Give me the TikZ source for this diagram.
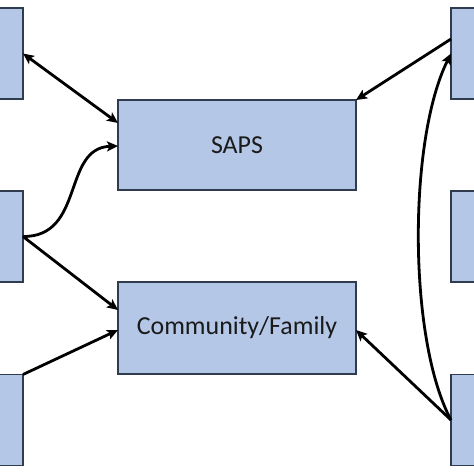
\documentclass[tikz,border=0pt]{standalone}
\usepackage{fontspec}
\setmainfont{Carlito}
\usetikzlibrary{arrows.meta}
\definecolor{boxfill}{HTML}{B4C7E7}
\definecolor{boxline}{HTML}{2F3B4F}
\definecolor{txt}{HTML}{1A1A1A}
\begin{document}
\begin{tikzpicture}[x=1bp,y=-1bp,
  box/.style={draw=boxline, fill=boxfill, line width=1.6bp, inner sep=0pt, outer sep=0pt,
    text=txt, font=\fontsize{26}{31}\selectfont},
  bigbox/.style={box, minimum width=238bp, minimum height=90bp},
  sidebox/.style={box, minimum width=53bp, minimum height=91bp},
  tip/.tip={Stealth[length=11bp,width=10bp,inset=2.5bp]},
  conn/.style={line width=2.8bp, -tip},
  dconn/.style={line width=2.8bp, tip-tip}]
\useasboundingbox (0,0) rectangle (474,474);
\clip (0,0) rectangle (474,474);
\fill[white] (0,0) rectangle (474,474);
% main boxes
\node[bigbox] (saps) at (237,145) {SAPS};
\node[bigbox, minimum height=92bp] (comm) at (237,328) {Community/Family};
% left boxes
\node[sidebox] (lt) at (-3.5,53.5) {};
\node[sidebox] (lm) at (-3.5,236.5) {};
\node[sidebox] (lb) at (-3.5,420) {};
% right boxes
\node[sidebox] (rt) at (477.5,53.5) {};
\node[sidebox] (rm) at (477.5,236.5) {};
\node[sidebox] (rb) at (477.5,420) {};
% connectors
\draw[dconn] (lt.east) -- ([yshift=22bp]saps.west);
\draw[conn] (lm.east) .. controls (85,237) and (62,148) .. ([yshift=-1bp]saps.west);
\draw[conn] (lm.east) -- ([yshift=18bp]comm.west);
\draw[conn] (lb.north east) -- ([yshift=-2bp]comm.west);
\draw[conn] ([yshift=14.5bp]rt.west) -- (saps.north east);
\draw[conn] (rb.west) .. controls (408,340) and (408,140) .. (rt.west);
\draw[conn] (rb.west) -- ([yshift=-2bp]comm.east);
\end{tikzpicture}
\end{document}
